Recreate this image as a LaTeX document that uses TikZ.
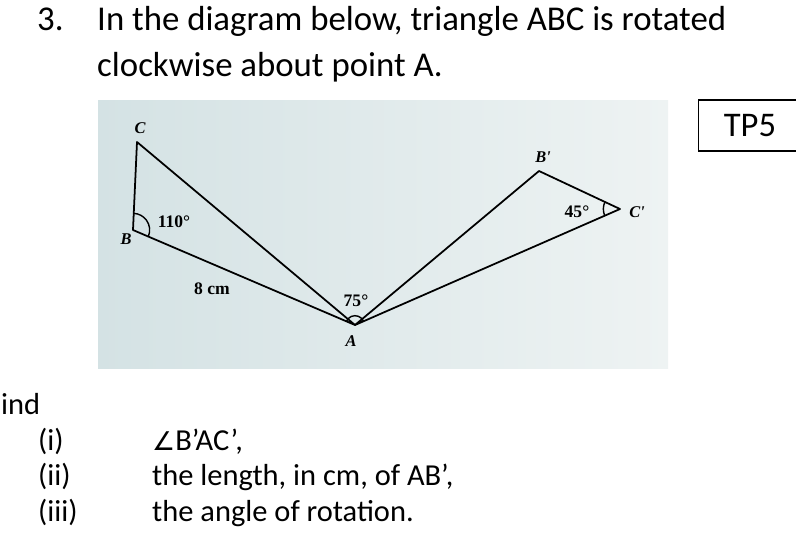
\documentclass[tikz,border=0pt]{standalone}
\usepackage{fontspec}
\setmainfont{Carlito}
\newfontfamily\figfont{Liberation Serif}
\newfontfamily\symfont{DejaVu Sans}
\usetikzlibrary{angles}

\begin{document}
\begin{tikzpicture}[x=0.03cm,y=0.03cm,
	qtext/.style={anchor=base west,inner sep=0pt,font=\fontsize{29.7}{30}\selectfont},
	ptext/.style={anchor=base west,inner sep=0pt,font=\fontsize{26}{26}\selectfont},
	vlabel/.style={inner sep=0pt,font=\figfont\bfseries\itshape\fontsize{14}{14}\selectfont},
	mlabel/.style={inner sep=0pt,font=\figfont\bfseries\fontsize{15}{15}\selectfont},
	side/.style={line width=1.5pt,line join=round},
	anglearc/.style={draw,line width=1.2pt}]
	\useasboundingbox (0,0) rectangle (796,-552);

	% question
	\node[qtext] (num) at (37,-30) {3.};
	\node[qtext] (q1) at (97,-30) {In the diagram below, triangle ABC is rotated};
	\node[qtext] (q2) at (97,-76) {clockwise about point A.};
	\node[draw,line width=1.1pt,minimum width=3.1cm,minimum height=1.53cm,
		font=\fontsize{29.5}{30}\selectfont] (tp) at (750,-125.5) {TP5};

	% photo of the diagram
	\fill[left color={rgb,255:red,212;green,226;blue,228},
		right color={rgb,255:red,238;green,243;blue,243}] (98,-100) rectangle (668,-368);

	\coordinate (A) at (355,-325);
	\coordinate (B) at (133,-230);
	\coordinate (C) at (137,-142);
	\coordinate (Bp) at (539,-171);
	\coordinate (Cp) at (620,-209);

	\draw[side] (A)--(B)--(C)--cycle;
	\draw[side] (A)--(Bp)--(Cp)--cycle;

	\pic[anglearc,angle radius=0.5cm] {angle=A--B--C};
	\pic[anglearc,angle radius=0.5cm] {angle=Bp--Cp--A};
	\pic[anglearc,angle radius=0.28cm] {angle=Cp--A--B};

	\node[vlabel] (lA) at (351,-341) {A};
	\node[vlabel] (lB) at (126,-239) {B};
	\node[vlabel] (lC) at (140,-128) {C};
	\node[vlabel] (lBp) at (543,-157) {B'};
	\node[vlabel] (lCp) at (637,-212) {C'};
	\node[mlabel] (aB) at (174,-222) {110°};
	\node[mlabel] (aA) at (356,-301) {75°};
	\node[mlabel] (aCp) at (577,-212) {45°};
	\node[mlabel] (len) at (212,-289) {8 cm};

	% parts
	\node[ptext] (find) at (1,-414) {ind};
	\node[ptext] (p1) at (38,-450) {(i)};
	\node[ptext] (p1t) at (152,-450) {{\symfont\fontsize{22}{22}\selectfont ∠}B’AC’,};
	\node[ptext] (p2) at (38,-485) {(ii)};
	\node[ptext] (p2t) at (152,-485) {the length, in cm, of AB’,};
	\node[ptext] (p3) at (38,-521) {(iii)};
	\node[ptext] (p3t) at (152,-521) {the angle of rotation.};
\end{tikzpicture}
\end{document}
